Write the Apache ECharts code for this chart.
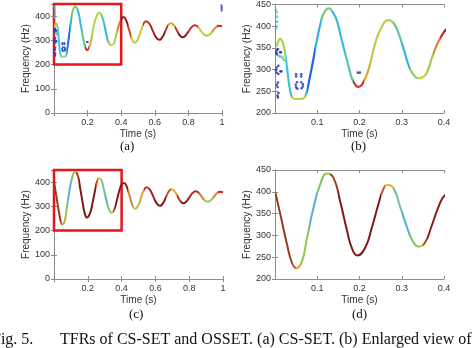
<!DOCTYPE html>
<html>
<head>
<meta charset="utf-8">
<script src="https://cdn.jsdelivr.net/npm/echarts@6/dist/echarts.min.js"></script>
<style>
html,body{margin:0;padding:0;background:#fff;}
#c{width:474px;height:348px;}
</style>
</head>
<body>
<div id="c"></div>
<script>
// ---- CS-SET ridge (panels a, b) ----
const csTime = [0.004,0.008,0.012,0.017,0.022,0.026,0.030,0.034,0.038,0.043,0.050,0.058,0.066,0.071,0.076,0.082,0.090,0.100,0.108,0.116,0.127,0.136,0.146,0.158,0.172,0.182,0.190,0.197,0.206,0.221,0.237,0.253,0.268,0.278,0.288,0.304,0.319,0.331,0.341,0.350,0.359,0.378,0.400,0.414,0.431,0.4475,0.464,0.481,0.498,0.5145,0.531,0.548,0.568,0.5875,0.607,0.627,0.644,0.6615,0.679,0.696,0.713,0.7305,0.748,0.765,0.783,0.8015,0.820,0.838,0.856,0.8735,0.891,0.909,0.927,0.9455,0.964,0.982,1.0];
const csFreq = [352,366,371,366,348,322,292,262,243,234,232,232,233,238,252,280,320,372,407,431,441,433,414,368,315,280,265,260,265,299,360,399,414,410,395,349,303,284,280,283,292,345,387,396,380,343,305,290,303,334,366,379,368,340,313,302,312,336,361,371,362,342,321,313,320,337,355,362,356,340,325,319,325,339,354,360,357];

// ---- OSSET ridge (panels c, d) ----
const osTime = [0.001,0.0127,0.0285,0.0403,0.0505,0.064,0.0757,0.091,0.107,0.123,0.1385,0.154,0.170,0.182,0.195,0.213,0.229,0.2446,0.256,0.266,0.280,0.2957,0.3116,0.327,0.340,0.3547,0.3705,0.386,0.400,0.414,0.431,0.4475,0.464,0.481,0.498,0.5145,0.531,0.548,0.568,0.5875,0.607,0.627,0.644,0.6615,0.679,0.696,0.713,0.7305,0.748,0.765,0.783,0.8015,0.820,0.838,0.856,0.8735,0.891,0.909,0.927,0.9455,0.964,0.982,1.0];
const osFreq = [398,348,279,237,225,241,294,363,417,442,432,379,313,271,254,271,317,371,405,416,409,367,321,285,274,283,321,363,390,396,380,343,305,290,303,334,366,379,368,340,313,302,312,336,361,371,362,342,321,313,320,337,355,362,356,340,325,319,325,339,354,360,357];

// ---- spurious CS-SET points ----
const spurTime = [0.007,0.004,0.003,0.005,0.012,0.014, 0.008,0.004,0.002,0.004,0.008,0.013,0.015, 0.007,0.004,0.006, 0.008,0.006,0.007, 0.052,0.049,0.050,0.053, 0.062,0.066,0.066,0.063, 0.050,0.050,0.062,0.062, 0.196,0.201, 0.998,0.998,0.998,0.997];
const spurFreq = [347,344,339,335,340,340, 309,305,299,293,290,296,296, 270,265,260, 246,240,236, 271,265,259,256, 271,266,261,257, 289,284,289,284, 293,293, 423,430,437,444];
const arcTime = [0.002,0.004,0.005,0.005,0.004,0.002, 0.010,0.014,0.018,0.021];
const arcFreq = [438,432,422,410,400,395, 331,330,327,322];

// ---- colour pieces along time ----
const csColorEdges = [0,0.025,0.04,0.07,0.076,0.095,0.11,0.135,0.165,0.185,0.21,0.225,0.28,0.30,0.32,0.335,0.355,0.375,0.39,0.40,0.44,0.46,0.475,0.50,0.53,0.57,0.60,0.66,0.68,0.72,0.74,0.80,0.86,0.89,0.94,0.97];
const csColors = ['#a6d24c','#3fc0dc','#b4d64a','#3fc0dc','#2366dd','#2fb4e2','#7acb6e','#3cb9dc','#5cc79a','#cc2e28','#e0a432','#b2d34a','#62c68e','#34b6dc','#86cc68','#cfd23e','#a6cf4e','#e08432','#c8302a','#941c1c','#d0452a','#dcc43a','#a9d04a','#dcc43a','#c8302a','#b02222','#8a1818','#c03028','#d6a234','#c83028','#8a1818','#c03028','#dcc43a','#a9cc4a','#e08a32','#c03028'];
const osColorEdges = [0,0.04,0.05,0.065,0.08,0.1,0.115,0.13,0.15,0.25,0.26,0.28,0.30,0.32,0.335,0.35,0.36,0.44,0.47,0.50,0.53,0.57,0.60,0.66,0.69,0.73,0.75,0.80,0.86,0.89,0.94,0.97];
const osColors = ['#9a3a20','#c0562a','#d8a232','#8cc852','#5aaed0','#7cc256','#a2c844','#a04024','#7c1a16','#c0562a','#d8c034','#74c29c','#52b0d0','#84c264','#b0c440','#b04424','#8a1c18','#d08232','#b0c842','#d0a232','#c03028','#a82020','#7c1616','#c05028','#d8b034','#b83028','#801818','#b82828','#d08232','#b0c042','#d08232','#b82828'];

// ---- axis ticks / labels ----
const fullTimeRange = [0, 1, 0.2];
const zoomTimeRange = [0, 0.4, 0.1];
const fullFreqRange = [0, 450, 100];
const zoomFreqRange = [200, 450, 50];
const boxRange = [0, 0.4, 200, 450];
const panelLabels = ['(a)', '(b)', '(c)', '(d)'];
const xName = 'Time (s)';
const yName = 'Frequency (Hz)';
const caption1 = 'Fig. 5.';
const caption2 = 'TFRs of CS-SET and OSSET. (a) CS-SET. (b) Enlarged view of (a). (c) OSSET. (d) Enlarged view of (c).';

const pair = (xs, ys) => xs.map((t, i) => [t, ys[i]]);
const pieces = (edges, cols) => edges.map((e, i) => {
  const p = {gte: e, color: cols[i]};
  p.lt = i + 1 < edges.length ? edges[i + 1] : 10;
  return p;
});

const AX = '#8c8c8c';
const TXT = '#333';
const grids = [
  {left: 54, top: 4, width: 168, height: 109},
  {left: 275, top: 4, width: 169, height: 109},
  {left: 54, top: 170, width: 169, height: 109},
  {left: 275, top: 170, width: 169, height: 109}
];
const isZoom = [false, true, false, true];
const yGaps = [20, 22, 20, 22];

const xAxes = [], yAxes = [];
for (let g = 0; g < 4; g++) {
  const tr = isZoom[g] ? zoomTimeRange : fullTimeRange;
  const fr = isZoom[g] ? zoomFreqRange : fullFreqRange;
  xAxes.push({
    type: 'value', gridIndex: g, min: tr[0], max: tr[1], interval: tr[2],
    name: xName, nameLocation: 'middle', nameGap: 16,
    nameTextStyle: {fontSize: 10, color: TXT, fontFamily: 'Liberation Sans'},
    axisLine: {show: true, lineStyle: {color: AX}},
    axisTick: {show: true, inside: true, length: 3, lineStyle: {color: AX}},
    axisLabel: {fontSize: 9, color: TXT, margin: 5, showMinLabel: false, fontFamily: 'Liberation Sans'},
    splitLine: {show: false}
  });
  yAxes.push({
    type: 'value', gridIndex: g, min: fr[0], max: fr[1], interval: fr[2],
    name: yName, nameLocation: 'middle', nameGap: yGaps[g],
    nameTextStyle: {fontSize: 10, color: TXT, fontFamily: 'Liberation Sans'},
    axisLine: {show: true, lineStyle: {color: AX}},
    axisTick: {show: true, inside: true, length: 3, lineStyle: {color: AX}},
    axisLabel: {fontSize: 9, color: TXT, margin: 4, showMaxLabel: isZoom[g], fontFamily: 'Liberation Sans'},
    splitLine: {show: false}
  });
}
for (let g = 0; g < 4; g++) {
  const tr = isZoom[g] ? zoomTimeRange : fullTimeRange;
  const fr = isZoom[g] ? zoomFreqRange : fullFreqRange;
  xAxes.push({
    type: 'value', gridIndex: g, position: 'top', min: tr[0], max: tr[1], interval: tr[2],
    axisLine: {show: true, lineStyle: {color: AX}},
    axisTick: {show: true, inside: true, length: 3, lineStyle: {color: AX}},
    axisLabel: {show: false}, splitLine: {show: false}
  });
  yAxes.push({
    type: 'value', gridIndex: g, position: 'right', min: fr[0], max: fr[1], interval: fr[2],
    axisLine: {show: true, lineStyle: {color: AX}},
    axisTick: {show: true, inside: true, length: 3, lineStyle: {color: AX}},
    axisLabel: {show: false}, splitLine: {show: false}
  });
}

const redBox = {
  silent: true,
  itemStyle: {color: 'rgba(0,0,0,0)', borderColor: '#e4151c', borderWidth: 2.5},
  data: [[{xAxis: boxRange[0], yAxis: boxRange[2]}, {xAxis: boxRange[1], yAxis: boxRange[3]}]]
};

const ridge = (data, g, lw, box) => ({
  type: 'line', xAxisIndex: g, yAxisIndex: g, data: data, smooth: 0.5,
  symbol: 'none', lineStyle: {width: lw}, clip: true,
  markArea: box ? redBox : undefined, z: 3
});

const csData = pair(csTime, csFreq);
const osData = pair(osTime, osFreq);
const spurData = pair(spurTime, spurFreq);
const arcData = pair(arcTime, arcFreq);

const series = [
  ridge(csData, 0, 2, true),
  ridge(csData, 1, 2.2, false),
  ridge(osData, 2, 2, true),
  ridge(osData, 3, 2, false),
  {type: 'scatter', xAxisIndex: 0, yAxisIndex: 0, data: spurData, symbolSize: 2.2, itemStyle: {color: '#2a36b8'}, z: 4},
  {type: 'scatter', xAxisIndex: 1, yAxisIndex: 1, data: spurData, symbolSize: 2.6, itemStyle: {color: '#1f2cb0'}, z: 4},
  {type: 'scatter', xAxisIndex: 0, yAxisIndex: 0, data: arcData, symbolSize: 2.2, itemStyle: {color: '#4cbcc4'}, z: 4},
  {type: 'scatter', xAxisIndex: 1, yAxisIndex: 1, data: arcData, symbolSize: 2.6, itemStyle: {color: '#4cbcc4'}, z: 4}
];

const labelPos = [[128, 148], [359, 148], [137, 316], [360, 316]];
const graphic = panelLabels.map((t, i) => ({
  type: 'text', left: labelPos[i][0] - 8, top: labelPos[i][1] - 8,
  style: {text: t, font: '13px "Liberation Serif"', fill: '#111'}
}));
graphic.push({type: 'text', left: -8, top: 332, style: {text: caption1, font: '16px "Liberation Serif"', fill: '#111'}});
graphic.push({type: 'text', left: 60, top: 332, style: {text: caption2, font: '16px "Liberation Serif"', fill: '#111'}});

const chart = echarts.init(document.getElementById('c'), null, {renderer: 'canvas'});
chart.setOption({
  animation: false,
  backgroundColor: '#fff',
  grid: grids,
  xAxis: xAxes,
  yAxis: yAxes,
  visualMap: [
    {type: 'piecewise', show: false, dimension: 0, seriesIndex: [0, 1], pieces: pieces(csColorEdges, csColors)},
    {type: 'piecewise', show: false, dimension: 0, seriesIndex: [2, 3], pieces: pieces(osColorEdges, osColors)}
  ],
  series: series,
  graphic: graphic
});
</script>
</body>
</html>
